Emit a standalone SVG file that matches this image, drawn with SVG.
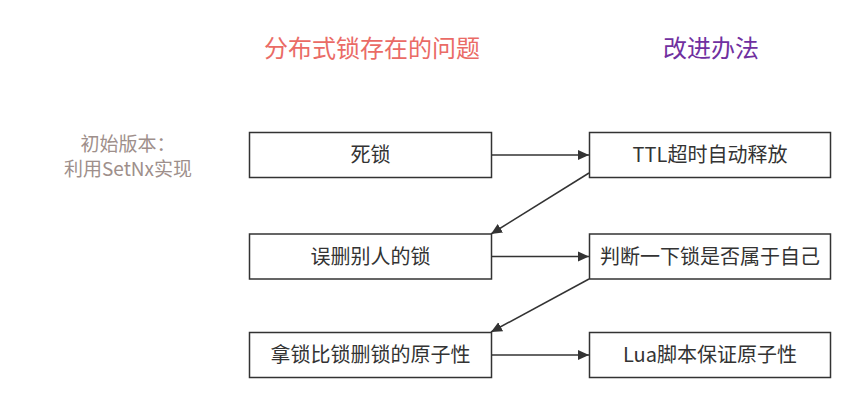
<svg xmlns="http://www.w3.org/2000/svg" width="857" height="403" viewBox="0 0 857 403">
<defs>
<marker id="ah" markerWidth="12" markerHeight="12" refX="11" refY="5.5" orient="auto" markerUnits="userSpaceOnUse">
<path d="M0,0.5 L11,5.5 L0,10.5 Z" fill="#333333"/>
</marker>
<style>
.box{fill:#ffffff;stroke:#333333;stroke-width:1.5}
.t{font-family:"Microsoft YaHei","Noto Sans CJK SC",sans-serif;font-size:20px;fill:#333333;text-anchor:middle}
.h{font-family:"Microsoft YaHei","Noto Sans CJK SC",sans-serif;font-size:24px;text-anchor:middle}
.lbl{font-family:"Microsoft YaHei","Noto Sans CJK SC",sans-serif;font-size:19px;fill:#9E8F8B;text-anchor:middle}
.c{stroke:#333333;stroke-width:1.5;fill:none;marker-end:url(#ah)}
</style>
</defs>
<rect width="857" height="403" fill="#ffffff"/>
<text class="h" x="372" y="57" fill="#EA6B66">分布式锁存在的问题</text>
<text class="h" x="711" y="57" fill="#7030A0">改进办法</text>
<text class="lbl" x="128" y="151">初始版本：</text>
<text class="lbl" x="128" y="176">利用SetNx实现</text>
<g id="connectors">
<line class="c" x1="492" y1="155" x2="589" y2="155"/>
<line class="c" x1="589" y1="173" x2="491" y2="234"/>
<line class="c" x1="492" y1="256.5" x2="589" y2="256.5"/>
<line class="c" x1="589" y1="279" x2="491" y2="332"/>
<line class="c" x1="492" y1="355" x2="589" y2="355"/>
</g>
<g id="n1"><rect class="box" x="249.5" y="132.5" width="242" height="45"/><text class="t" x="370.5" y="162">死锁</text></g>
<g id="n2"><rect class="box" x="589.5" y="132.5" width="241" height="45"/><text class="t" x="710" y="162">TTL超时自动释放</text></g>
<g id="n3"><rect class="box" x="249.5" y="234" width="242" height="45"/><text class="t" x="370.5" y="263.5">误删别人的锁</text></g>
<g id="n4"><rect class="box" x="589.5" y="234" width="241" height="45"/><text class="t" x="710" y="263.5">判断一下锁是否属于自己</text></g>
<g id="n5"><rect class="box" x="249.5" y="332.5" width="242" height="45"/><text class="t" x="370.5" y="362">拿锁比锁删锁的原子性</text></g>
<g id="n6"><rect class="box" x="589.5" y="332.5" width="241" height="45"/><text class="t" x="710" y="362">Lua脚本保证原子性</text></g>
</svg>
